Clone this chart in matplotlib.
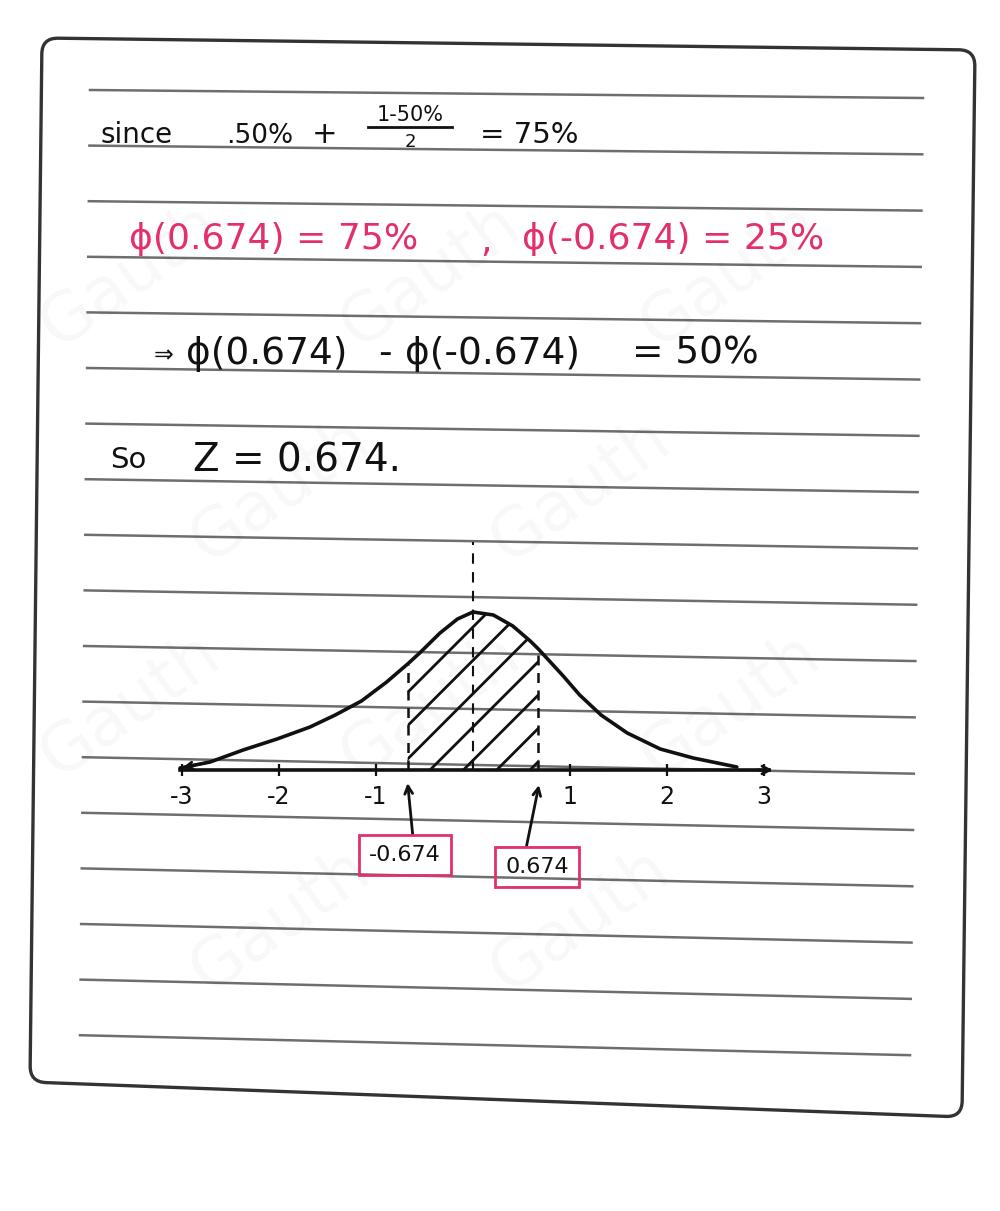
import numpy as np
import matplotlib
matplotlib.use('Agg')
import matplotlib.pyplot as plt
from matplotlib.path import Path
from matplotlib.patches import PathPatch

# values (z, height in px above axis)
z_curve = [-3.02, -2.71, -2.37, -2.02, -1.68, -1.42, -1.15, -0.89, -0.674, -0.55, -0.34, -0.16,
           0.0, 0.21, 0.41, 0.59, 0.674, 0.93, 1.10, 1.32, 1.59, 1.93, 2.27, 2.47, 2.72]
h_curve = [2, 8, 20, 31, 43, 55, 69, 88, 106, 117, 137, 151,
           158, 155, 144, 129, 121, 94, 75, 55, 37, 21, 12, 8, 3]
tick_vals = [-3, -2, -1, 1, 2, 3]
tick_labels = ['-3', '-2', '-1', '1', '2', '3']
z_crit = 0.674

pink = '#e3306c'
ink = '#111111'
plt.rcParams['font.family'] = ['DejaVu Sans']
plt.rcParams['hatch.linewidth'] = 2.0

fig = plt.figure(figsize=(10, 12.11), dpi=100)
ax = fig.add_axes([0, 0, 1, 1])
ax.set_xlim(0, 1000)
ax.set_ylim(1211, 0)
ax.axis('off')

# faint watermark (only the ones that sit fully inside the picture)
for row in range(6):
    for col in range(5):
        wx = -20 + col * 300 + (row % 2) * 150
        wy = 60 + row * 215
        if 120 < wx < 880 and 100 < wy < 1120:
            ax.text(wx, wy, 'Gauth', fontsize=48, rotation=35, color='black', alpha=0.03,
                    ha='center', va='center')


def rounded_quad(pts, r):
    verts, codes = [], []
    n = len(pts)
    for i in range(n):
        p0 = np.array(pts[i - 1], float)
        p1 = np.array(pts[i], float)
        p2 = np.array(pts[(i + 1) % n], float)
        a = p1 + (p0 - p1) / np.linalg.norm(p0 - p1) * r
        b = p1 + (p2 - p1) / np.linalg.norm(p2 - p1) * r
        verts.append(a)
        codes.append(Path.MOVETO if i == 0 else Path.LINETO)
        verts += [p1, b]
        codes += [Path.CURVE3, Path.CURVE3]
    verts.append(verts[0])
    codes.append(Path.CLOSEPOLY)
    return Path(verts, codes)


paper = rounded_quad([(42, 38), (975, 50), (962, 1117), (30, 1082)], 16)
ax.add_patch(PathPatch(paper, facecolor='none', edgecolor='#333333', lw=2.4, zorder=1))

# ruled lines
for i in range(18):
    y0 = 90 + i * 55.6
    tilt = 8 + 12 * i / 17
    xl = 90 - 10 * i / 17
    xr = 923 - 13 * i / 17
    ax.plot([xl, xr], [y0, y0 + tilt], color='#555555', lw=1.8, alpha=0.85, zorder=2)

# line 1
ax.text(100, 143, 'since', fontsize=20, color=ink, zorder=5)
ax.text(226, 143, '.50%', fontsize=19, color=ink, zorder=5)
ax.text(312, 143, '+', fontsize=22, color=ink, zorder=5)
ax.text(410, 121, '1-50%', fontsize=15, color=ink, ha='center', zorder=5)
ax.plot([368, 452], [127, 127], color=ink, lw=2, zorder=5)
ax.text(410, 147, '2', fontsize=13, color=ink, ha='center', zorder=5)
ax.text(480, 143, '= 75%', fontsize=21, color=ink, zorder=5)

# line 2 (pink)
ax.text(129, 249, 'ϕ(0.674) = 75%', fontsize=26, color=pink, zorder=5)
ax.text(480, 252, ',', fontsize=26, color=pink, zorder=5)
ax.text(522, 249, 'ϕ(-0.674) = 25%', fontsize=26, color=pink, zorder=5)

# line 3
ax.text(154, 362, '⇒', fontsize=17, color=ink, zorder=5)
ax.text(186, 364, 'ϕ(0.674)', fontsize=27, color=ink, zorder=5)
ax.text(378, 364, '-', fontsize=27, color=ink, zorder=5)
ax.text(405, 364, 'ϕ(-0.674)', fontsize=27, color=ink, zorder=5)
ax.text(632, 364, '= 50%', fontsize=27, color=ink, zorder=5)

# line 4
ax.text(110, 468, 'So', fontsize=21, color=ink, zorder=5)
ax.text(193, 472, 'Z = 0.674.', fontsize=28, color=ink, zorder=5)

# normal curve sketch
ax2 = fig.add_axes([0.1335, (1211 - 905) / 1211, 0.679, 375 / 1211])
ax2.set_xlim(-3.5, 3.5)
ax2.set_ylim(-135, 240)
ax2.set_facecolor('none')
for s in ['top', 'left', 'right']:
    ax2.spines[s].set_visible(False)
ax2.set_yticks([])
ax2.spines['bottom'].set_position(('data', 0))
ax2.spines['bottom'].set_bounds(z_curve[0], 3.05)
ax2.spines['bottom'].set_linewidth(2.6)
ax2.spines['bottom'].set_color(ink)
ax2.set_xticks(tick_vals)
ax2.set_xticklabels(tick_labels, fontsize=17, color=ink)
ax2.tick_params(axis='x', direction='inout', length=8, width=1.6, pad=7, color=ink)

z = np.array(z_curve)
h = np.array(h_curve)
ax2.plot(z, h, color=ink, lw=2.6, solid_joinstyle='round', solid_capstyle='round')
ax2.annotate('', xy=(z[0], h[0]), xytext=(z[1], h[1]),
             arrowprops=dict(arrowstyle='->', lw=2, color=ink, mutation_scale=12))
ax2.annotate('', xy=(3.12, 0), xytext=(2.9, 0),
             arrowprops=dict(arrowstyle='->', lw=2, color=ink, mutation_scale=14))

mask = (z >= -z_crit) & (z <= z_crit)
ax2.fill_between(z[mask], 0, h[mask], facecolor='none', edgecolor=ink, hatch='/', linewidth=0)
ax2.vlines([-z_crit, z_crit], 0, [h[z == -z_crit][0], h[z == z_crit][0]],
           colors=ink, linestyles=(0, (4, 3)), lw=1.8)
ax2.vlines(0, 0, 228, colors=ink, linestyles=(0, (5, 4)), lw=1.5)

box = dict(boxstyle='square,pad=0.45', facecolor='none', edgecolor=pink, lw=2)
ax2.annotate('-0.674', xy=(-z_crit, -13), xytext=(-0.70, -85), fontsize=16, color=ink,
             ha='center', va='center', bbox=box,
             arrowprops=dict(arrowstyle='->', lw=2, color=ink, relpos=(0.62, 1),
                             shrinkA=0, shrinkB=0, mutation_scale=14))
ax2.annotate('0.674', xy=(0.68, -15), xytext=(0.66, -97), fontsize=16, color=ink,
             ha='center', va='center', bbox=box,
             arrowprops=dict(arrowstyle='->', lw=2, color=ink, relpos=(0.3, 1),
                             shrinkA=0, shrinkB=0, mutation_scale=14))

fig.savefig('out.png', dpi=100, facecolor='white')
